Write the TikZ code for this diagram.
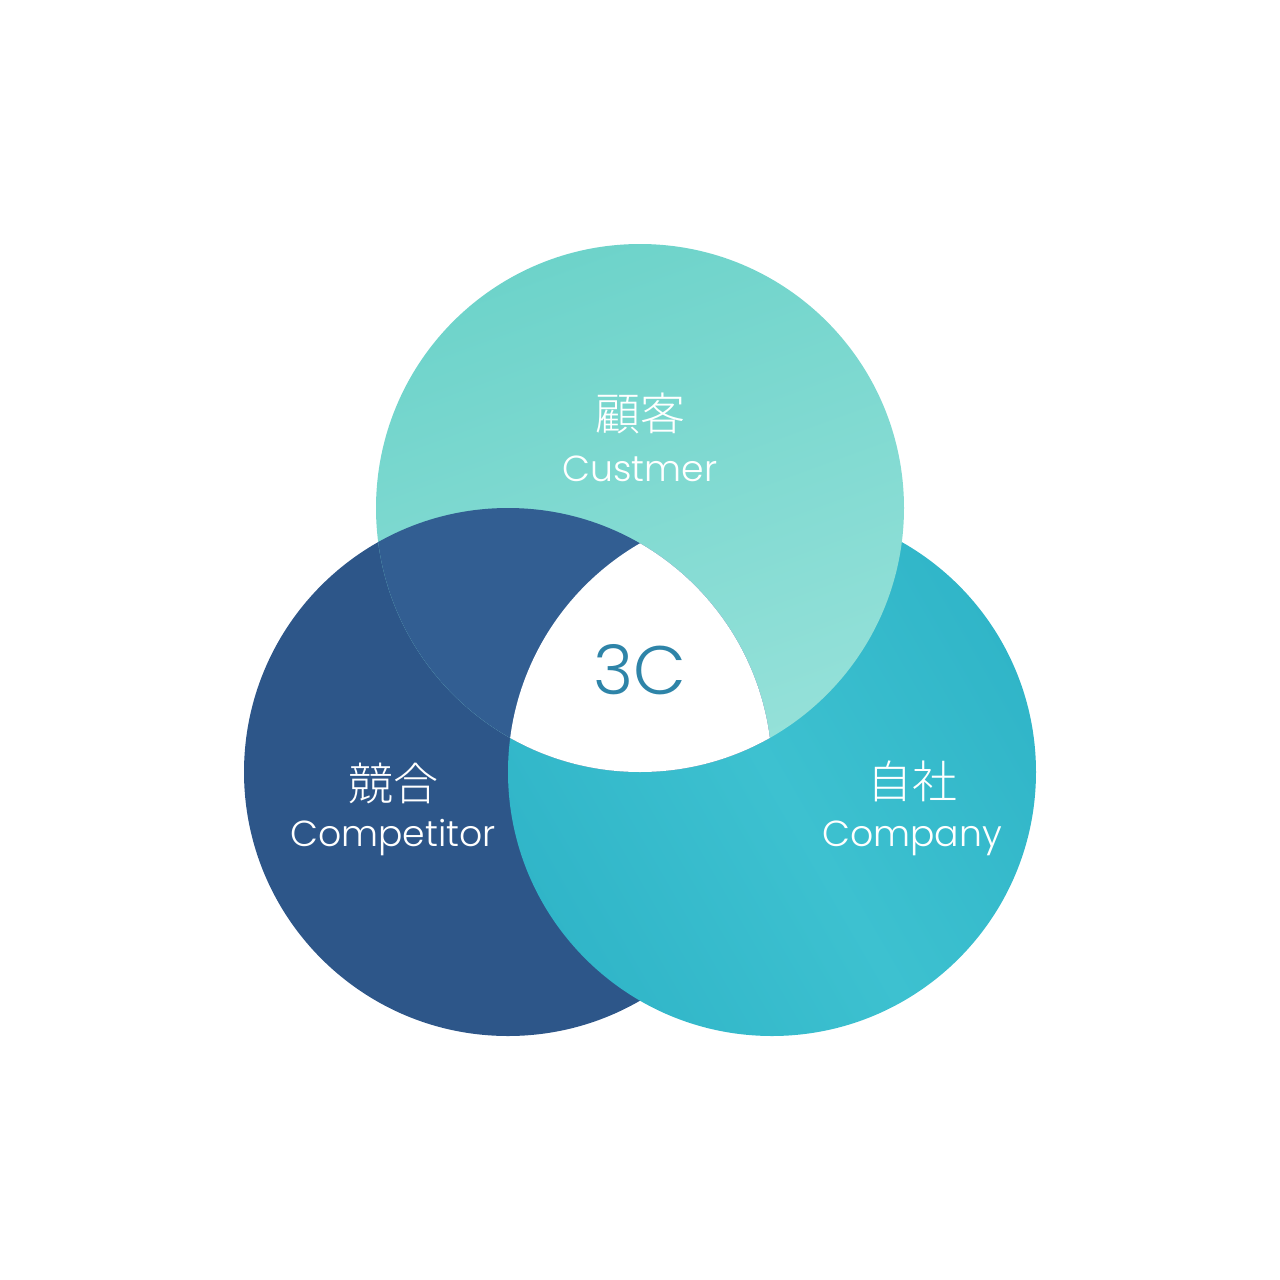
\documentclass[tikz,border=0pt]{standalone}
\usepackage{fontspec}
\setmainfont{Poppins}[UprightFont=* Light]
\newfontfamily\cjk{Noto Sans CJK JP}[UprightFont=* Light]
\usepackage{tikz}
\definecolor{topc}{HTML}{6DD3CA}
\definecolor{topclight}{HTML}{95E1D9}
\definecolor{leftc}{HTML}{2D5689}
\definecolor{leftclight}{HTML}{325E92}
\definecolor{rightc}{HTML}{30B5C8}
\definecolor{rightclight}{HTML}{3DC1D0}
\definecolor{threec}{HTML}{2E84A8}
\tikzset{
  jp/.style={text=white,font=\cjk\fontsize{12.8pt}{14pt}\selectfont},
  en/.style={text=white,font=\fontsize{10.3pt}{12pt}\selectfont}
}

\begin{document}
\begin{tikzpicture}[x=0.1mm,y=-0.1mm]
            \useasboundingbox (0,0) rectangle (1280,1280);
            % Centres
            \coordinate (T) at (640,508);
            \coordinate (L) at (508,772);
            \coordinate (R) at (772,772);
            % Circles
            \fill[leftc] (L) circle[radius=26.4mm];
            \begin{scope}
                \clip (R) circle[radius=26.4mm];
                \shade[top color=rightc, bottom color=rightc, middle color=rightclight, shading angle=-60] (500,500) rectangle (1040,1040);
            \end{scope}
            \begin{scope}
                \clip (T) circle[radius=26.4mm];
                \shade[top color=topc, bottom color=topclight, shading angle=20] (370,240) rectangle (910,780);
            \end{scope}
            \begin{scope}
                \clip (T) circle[radius=26.4mm];
                \fill[leftclight] (L) circle[radius=26.4mm];
            \end{scope}
            \begin{scope}
                \clip (T) circle[radius=26.4mm];
                \clip (L) circle[radius=26.4mm];
                \fill[white] (R) circle[radius=26.4mm];
            \end{scope}
            % Labels
            \node[jp] (customerjp) at (640,413) {顧客};
            \node[en] (customeren) at (640,469) {Custmer};
            \node[jp] (competitorjp) at (393,783) {競合};
            \node[en] (competitoren) at (393,838) {Competitor};
            \node[jp] (companyjp) at (912,781) {自社};
            \node[en] (companyen) at (912,838) {Company};
            \node[text=threec, font=\fontsize{19.5pt}{22pt}\selectfont] (threec) at (640,670) {3C};
        \end{tikzpicture}
\end{document}
